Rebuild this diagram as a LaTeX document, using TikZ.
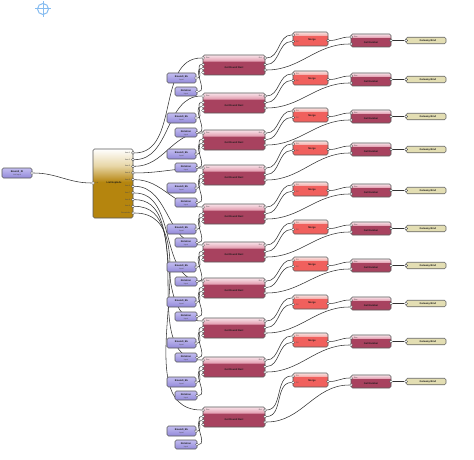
\documentclass[tikz,border=0pt]{standalone}
\usepackage{fontspec}
\setmainfont{Liberation Sans}
\usepackage{tikz}

\definecolor{wirec}{HTML}{333333}
\definecolor{rasp}{HTML}{A8425F}
\definecolor{raspl}{HTML}{E3A0B2}
\definecolor{rasppale}{HTML}{F9E4EA}
\definecolor{salmon}{HTML}{F0605D}
\definecolor{salmonl}{HTML}{F4ACAA}
\definecolor{salmonpale}{HTML}{FBE4E2}
\definecolor{lav}{HTML}{938ADA}
\definecolor{lavl}{HTML}{C3BDF0}
\definecolor{sand}{HTML}{E3DEB3}
\definecolor{gold}{HTML}{B5850E}
\definecolor{goldl}{HTML}{E8D7A8}
\definecolor{crossc}{HTML}{86BCF0}

\pgfdeclareverticalshading{rectshade}{100bp}{color(0bp)=(rasp); color(59bp)=(rasp); color(60.5bp)=(raspl); color(75bp)=(rasppale); color(100bp)=(rasppale)}
\pgfdeclareverticalshading{numshade}{100bp}{color(0bp)=(rasp); color(60bp)=(rasp); color(61.5bp)=(raspl); color(75bp)=(rasppale); color(100bp)=(rasppale)}
\pgfdeclareverticalshading{mergeshade}{100bp}{color(0bp)=(salmon); color(61bp)=(salmon); color(62.5bp)=(salmonl); color(75bp)=(salmonpale); color(100bp)=(salmonpale)}
\pgfdeclareverticalshading{goldshade}{100bp}{color(0bp)=(gold); color(51bp)=(gold); color(63bp)=(goldl); color(75bp)=(white); color(100bp)=(white)}

\pgfdeclarelayer{wires}
\pgfsetlayers{wires,main}

\tikzset{
  wire/.style={draw=wirec, line width=0.55pt},
  port/.style={circle, draw=black!75, fill=white, line width=0.35pt, inner sep=0pt, minimum size=3pt},
  comp/.style={draw=black!65, line width=0.55pt, rounded corners=1.6pt, inner sep=0pt},
  lbl/.style={inner sep=0pt, font=\fontsize{2.5}{3}\selectfont\bfseries, text=black!90},
  sub/.style={inner sep=0pt, font=\fontsize{1.9}{2.2}\selectfont, text=black!70},
  rectbox/.style={comp, minimum width=62pt, minimum height=20pt, shading=rectshade},
  mergebox/.style={comp, minimum width=35pt, minimum height=14pt, shading=mergeshade},
  numbox/.style={comp, minimum width=40pt, minimum height=13pt, shading=numshade},
  bindbox/.style={comp, draw=black!60, fill=sand, minimum width=40pt, minimum height=6.5pt},
  lavbox/.style={comp, top color=lavl, bottom color=lav, minimum height=10pt},
  explodebox/.style={comp, minimum width=40pt, minimum height=69pt, shading=goldshade}
}

\begin{document}
\begin{tikzpicture}[x=1pt, y=-1pt]
    \useasboundingbox (0,0) rectangle (474,460);

    % crosshair
    \draw[crossc, line width=1pt] (43,9) circle (5.5);
    \draw[crossc, line width=1pt] (35,9) -- (51,9) (43,1) -- (43,17);

    % input and list explode
    \node[lavbox, minimum width=30pt] (idin) at (17,173) {};
    \node[lbl] (idin-t) at (17,171.5) {Boundi\_ID};
    \node[sub] (idin-s) at (17,175.5) {List Input};
    \node[port] (idin-o) at (32,173) {};

    \node[explodebox] (le) at (113,183.5) {};
    \node[lbl] (le-t) at (114,183) {List Explode};
    \node[port] (le-i) at (93,183) {};
    \node[sub, anchor=west] (le-il) at (95.5,183) {Lst};
    \foreach \k in {1,...,10}{
        \node[port] (le-o\k) at (133,146.3+6.67*\k) {};
        \node[sub, anchor=east] (le-ol\k) at (130.5,146.3+6.67*\k) {\ifnum\k=10 Remainder\else Item \k\fi};
    }

    % one row per rectangle
    \foreach \i/\p/\b/\r/\m in {1/55/73/87/32, 2/93/113/128/71, 3/130/149/163/108, 4/165/183/198/141, 5/204/224/238/182, 6/242/262/277/220, 7/278/297/312/257, 8/318/338/353/295, 9/357/377/391/333, 10/407/426/440/373}{
        \node[rectbox] (rect\i) at (234,\p+10) {};
        \node[lbl] (rect\i-t) at (234,\p+13) {Get Round Rect};
        \node[sub, anchor=west] (rect\i-a) at (206,\p+3) {Rec};
        \node[sub, anchor=east] (rect\i-b) at (262,\p+3) {Rct};
        \foreach \j/\d in {1/3, 2/9.5, 3/13.5, 4/17.5}
            \node[port] (rect\i-i\j) at (203,\p+\d) {};
        \foreach \j/\d in {1/3, 2/9.5, 3/15}
            \node[port] (rect\i-o\j) at (265,\p+\d) {};

        \node[lavbox, minimum width=29pt] (bnd\i) at (181.5,\b+5) {};
        \node[lbl] (bnd\i-t) at (181.5,\b+3.5) {Boundi\_Ek};
        \node[sub] (bnd\i-s) at (181.5,\b+7.3) {Input};
        \node[port] (bnd\i-o) at (196,\b+5) {};

        \node[lavbox, minimum width=22pt, minimum height=9pt] (rot\i) at (186,\r+4.5) {};
        \node[lbl] (rot\i-t) at (186,\r+3.2) {Rotation};
        \node[sub] (rot\i-s) at (186,\r+6.6) {Input};
        \node[port] (rot\i-o) at (197,\r+4.5) {};

        \node[mergebox] (merge\i) at (310.5,\m+7) {};
        \node[lbl] (merge\i-t) at (312,\m+8) {Merge};
        \node[sub, anchor=west] (merge\i-a) at (296,\m+3) {D1};
        \node[sub, anchor=west] (merge\i-b) at (296,\m+9.5) {D2};
        \node[port] (merge\i-i1) at (293,\m+3) {};
        \node[port] (merge\i-i2) at (293,\m+9.5) {};
        \node[port] (merge\i-o) at (328,\m+8.5) {};

        \node[numbox] (num\i) at (371,\m+8.5) {};
        \node[lbl] (num\i-t) at (371,\m+10.5) {Get Number};
        \node[sub, anchor=west] (num\i-a) at (354,\m+5) {Rec};
        \node[port] (num\i-i1) at (351,\m+5) {};
        \node[port] (num\i-i2) at (351,\m+12) {};
        \node[port] (num\i-o) at (391,\m+8.5) {};

        \node[bindbox] (bind\i) at (426,\m+8.5) {};
        \node[lbl] (bind\i-t) at (428,\m+8.5) {Gateway Bind};
        \node[port] (bind\i-i) at (406,\m+8.5) {};
    }

    % connectors
    \begin{pgfonlayer}{wires}
        \draw[wire] (idin-o) to[out=0, in=180] (le-i);
        \foreach \i in {1,...,10}{
            \draw[wire] (le-o\i) to[out=0, in=180] (rect\i-i1);
            \draw[wire] (bnd\i-o) to[out=0, in=180] (rect\i-i2);
            \draw[wire] (rot\i-o) to[out=0, in=180] (rect\i-i3);
            \draw[wire] (rect\i-o1) to[out=0, in=180] (merge\i-i1);
            \draw[wire] (rect\i-o2) to[out=0, in=180] (merge\i-i2);
            \draw[wire] (rect\i-o3) to[out=0, in=180] (num\i-i2);
            \draw[wire] (merge\i-o) to[out=0, in=180] (num\i-i1);
            \draw[wire] (num\i-o) to[out=0, in=180] (bind\i-i);
        }
    \end{pgfonlayer}
\end{tikzpicture}
\end{document}
